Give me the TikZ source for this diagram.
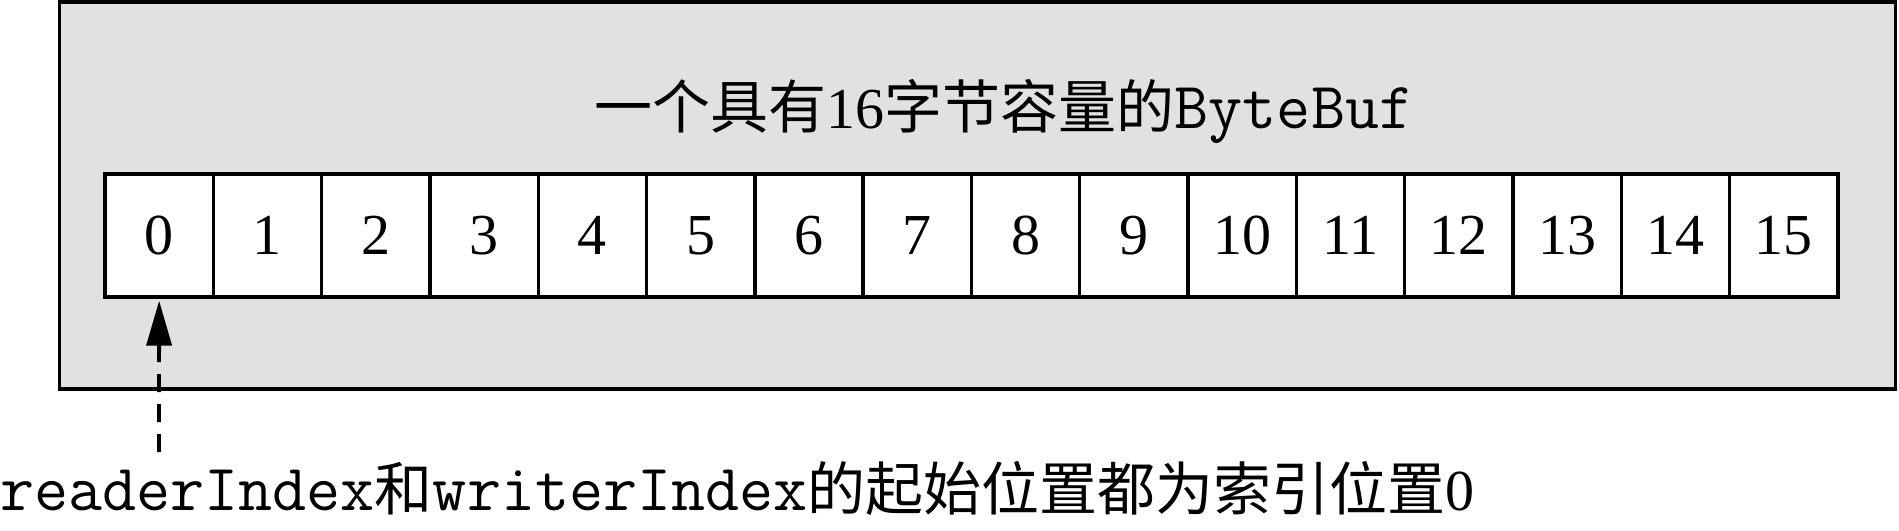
\documentclass[tikz,border=0pt]{standalone}
\usepackage{fontspec}
\setmainfont{Liberation Serif}
\newfontfamily\cjk{Noto Sans CJK SC}
\newfontfamily\mono{Latin Modern Mono}[Scale=1.14]
\usetikzlibrary{arrows.meta}
\definecolor{bufgray}{RGB}{225,225,225}
\begin{document}
\begin{tikzpicture}[x=0.5pt,y=-0.5pt,
    cellbox/.style={draw,line width=1.7pt,fill=white,minimum width=54.15pt,
      minimum height=61.5pt,inner sep=0pt,font=\fontsize{29pt}{34pt}\selectfont},
    bigtext/.style={inner sep=0pt,font=\fontsize{29pt}{34pt}\selectfont},
    dasharrow/.style={line width=1.9pt,dash pattern=on 9pt off 6pt,
      -{Triangle[width=12.5pt,length=22.5pt]},shorten >=1pt}]
  \useasboundingbox (0,0) rectangle (1899,530);
  % the ByteBuf
  \draw[line width=1.9pt,fill=bufgray] (59.5,1.9) rectangle (1895.5,389);
  \node[bigtext,anchor=base] (title) at (1004,128)
    {{\cjk 一个具有}16{\cjk 字节容量的}{\mono ByteBuf}};
  \foreach \i in {0,...,15}
    \node[cellbox] (c\i) at ({159.15+108.3*\i},235.5) {\i};
  % indices
  \node[bigtext,anchor=base west] (note) at (0,510)
    {{\mono readerIndex}{\cjk 和}{\mono writerIndex}{\cjk 的起始位置都为索引位置}0};
  \coordinate (foot) at (159,452);
  \draw[dasharrow] (foot) -- (c0.south);
\end{tikzpicture}
\end{document}
